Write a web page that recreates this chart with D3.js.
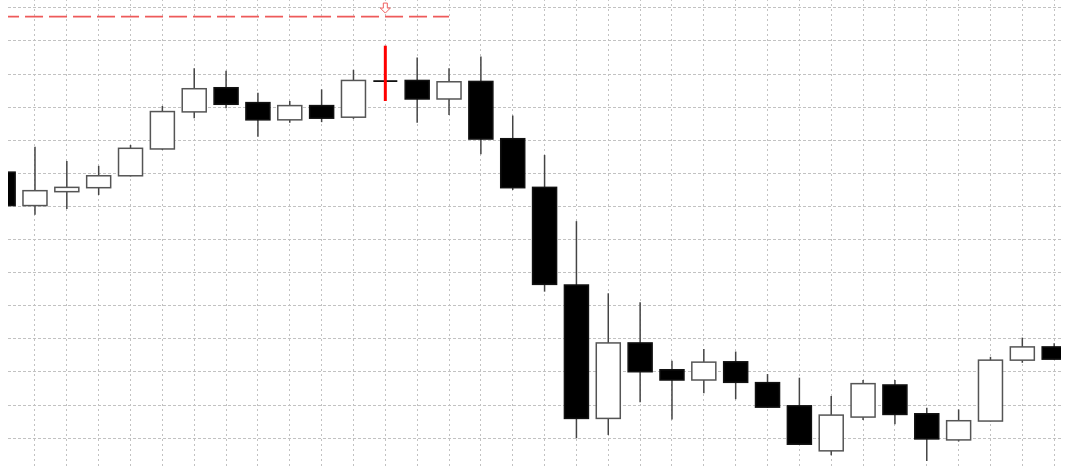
<!DOCTYPE html>
<html>
<head>
<meta charset="utf-8">
<script src="https://cdn.jsdelivr.net/npm/d3@7"></script>
<style>
    html, body { margin: 0; padding: 0; background: #fff; }
    svg { display: block; }
    .grid line { stroke: #c2c2c2; stroke-dasharray: 2.5,2.5; shape-rendering: crispEdges; }
    .grid path { display: none; }
</style>
</head>
<body>
<svg width="1068" height="473"></svg>
<script>
    // hourly bars
    var bars = ["05.02 14:00", "05.02 15:00", "05.02 16:00", "05.02 17:00", "05.02 18:00",
        "05.02 19:00", "05.02 20:00", "05.02 21:00", "05.02 22:00", "05.02 23:00",
        "05.03 00:00", "05.03 01:00", "05.03 02:00", "05.03 03:00", "05.03 04:00",
        "05.03 05:00", "05.03 06:00", "05.03 07:00", "05.03 08:00", "05.03 09:00",
        "05.03 10:00", "05.03 11:00", "05.03 12:00", "05.03 13:00", "05.03 14:00",
        "05.03 15:00", "05.03 16:00", "05.03 17:00", "05.03 18:00", "05.03 19:00",
        "05.03 20:00", "05.03 21:00", "05.03 22:00", "05.03 23:00"];

    var opens = [100.802, 100.701, 100.743, 100.755, 100.791, 100.872, 100.984, 101.057, 101.012, 100.960,
        101.003, 100.968, 101.077, 101.079, 101.023, 101.076, 100.903, 100.756, 100.461, 100.058,
        100.286, 100.205, 100.174, 100.229, 100.166, 100.096, 99.960, 100.062, 100.159, 100.072,
        99.993, 100.050, 100.234, 100.274];
    var highs = [100.824, 100.879, 100.836, 100.821, 100.884, 101.002, 101.116, 101.108, 101.042, 101.017,
        101.052, 101.111, 101.184, 101.148, 101.116, 101.151, 100.973, 100.854, 100.654, 100.436,
        100.409, 100.232, 100.268, 100.260, 100.192, 100.181, 100.126, 100.174, 100.174, 100.090,
        100.085, 100.244, 100.302, 100.285];
    var lows = [100.688, 100.673, 100.691, 100.733, 100.789, 100.869, 100.965, 100.995, 100.909, 100.951,
        100.953, 100.963, 101.017, 100.951, 100.975, 100.856, 100.748, 100.441, 99.998, 100.008,
        100.107, 100.055, 100.134, 100.116, 100.090, 99.979, 99.947, 100.053, 100.040, 99.929,
        99.988, 100.049, 100.226, 100.236];
    var closes = [100.701, 100.746, 100.756, 100.791, 100.874, 100.985, 101.054, 101.007, 100.960, 101.003,
        100.965, 101.079, 101.077, 101.023, 101.075, 100.902, 100.755, 100.463, 100.058, 100.286,
        100.199, 100.174, 100.228, 100.167, 100.092, 99.980, 100.068, 100.163, 100.070, 99.996,
        100.051, 100.234, 100.274, 100.237];

    var priceTicks = [100.0, 100.1, 100.2, 100.3, 100.4, 100.5, 100.6, 100.7,
        100.8, 100.9, 101.0, 101.1, 101.2, 101.3];

    // signal bar and the level line drawn above it
    var signalBar = "05.03 02:00";
    var levelPrice = 101.272;
    var levelFrom = "05.02 14:00";
    var levelTo = "05.03 04:00";

    var svg = d3.select("svg");
    var left = 8, right = 1061, height = 466;

    var x = d3.scaleBand().domain(bars).range([-12.8, 1070.1]).paddingInner(0).paddingOuter(0);
    var y = d3.scaleLinear().domain([100.0, 101.3]).range([437.6, 7.3]);
    var bw = x.bandwidth();
    var bodyW = 24;

    function cx(b) {
        return x(b) + bw / 2;
    }

    svg.append("defs").append("clipPath")
        .attr("id", "plot")
        .append("rect")
        .attr("x", left)
        .attr("y", 0)
        .attr("width", right - left)
        .attr("height", height);

    var g = svg.append("g").attr("clip-path", "url(#plot)");

    g.append("g")
        .attr("class", "grid")
        .attr("transform", "translate(0," + height + ")")
        .call(d3.axisBottom(x).tickSize(-height).tickFormat(""));

    g.append("g")
        .attr("class", "grid")
        .attr("transform", "translate(" + left + ",0)")
        .call(d3.axisLeft(y).tickValues(priceTicks).tickSize(-(right - left)).tickFormat(""));

    var data = bars.map(function (b, i) {
        return {bar: b, o: opens[i], h: highs[i], l: lows[i], c: closes[i]};
    });

    var candles = g.append("g").selectAll("g")
        .data(data)
        .enter().append("g");

    candles.filter(function (d) { return d.bar !== signalBar; })
        .append("line")
        .attr("x1", function (d) { return cx(d.bar); })
        .attr("x2", function (d) { return cx(d.bar); })
        .attr("y1", function (d) { return y(d.h); })
        .attr("y2", function (d) { return y(d.l); })
        .style("stroke", "#444")
        .style("stroke-width", 1.5);

    candles.filter(function (d) { return d.o !== d.c; })
        .append("rect")
        .attr("x", function (d) { return cx(d.bar) - bodyW / 2; })
        .attr("width", bodyW)
        .attr("y", function (d) { return y(Math.max(d.o, d.c)); })
        .attr("height", function (d) { return Math.abs(y(d.o) - y(d.c)); })
        .style("fill", function (d) { return d.c > d.o ? "#fff" : "#000"; })
        .style("stroke", function (d) { return d.c > d.o ? "#555" : "#111"; })
        .style("stroke-width", 1.5);

    candles.filter(function (d) { return d.o === d.c; })
        .append("line")
        .attr("x1", function (d) { return cx(d.bar) - bodyW / 2; })
        .attr("x2", function (d) { return cx(d.bar) + bodyW / 2; })
        .attr("y1", function (d) { return y(d.o); })
        .attr("y2", function (d) { return y(d.o); })
        .style("stroke", "#111")
        .style("stroke-width", 1.8);

    // red wick on the signal bar
    var sig = data.filter(function (d) { return d.bar === signalBar; })[0];
    g.append("line")
        .attr("x1", cx(sig.bar))
        .attr("x2", cx(sig.bar))
        .attr("y1", y(sig.h))
        .attr("y2", y(sig.l))
        .style("stroke", "#ff0000")
        .style("stroke-width", 3);

    g.append("line")
        .attr("x1", cx(levelFrom))
        .attr("x2", cx(levelTo))
        .attr("y1", y(levelPrice))
        .attr("y2", y(levelPrice))
        .style("stroke", "#ee5a5a")
        .style("stroke-width", 1.8)
        .style("stroke-dasharray", "18,6")
        .style("stroke-dashoffset", 2.1);

    // hollow down arrow over the signal bar
    var ax = cx(signalBar), tip = y(levelPrice) - 3.5;
    g.append("path")
        .attr("d", "M" + (ax - 2) + "," + (tip - 10) + "H" + (ax + 2) + "V" + (tip - 5) +
            "H" + (ax + 5) + "L" + ax + "," + tip + "L" + (ax - 5) + "," + (tip - 5) +
            "H" + (ax - 2) + "Z")
        .style("fill", "#fff")
        .style("stroke", "#f06060")
        .style("stroke-width", 1);
</script>
</body>
</html>
